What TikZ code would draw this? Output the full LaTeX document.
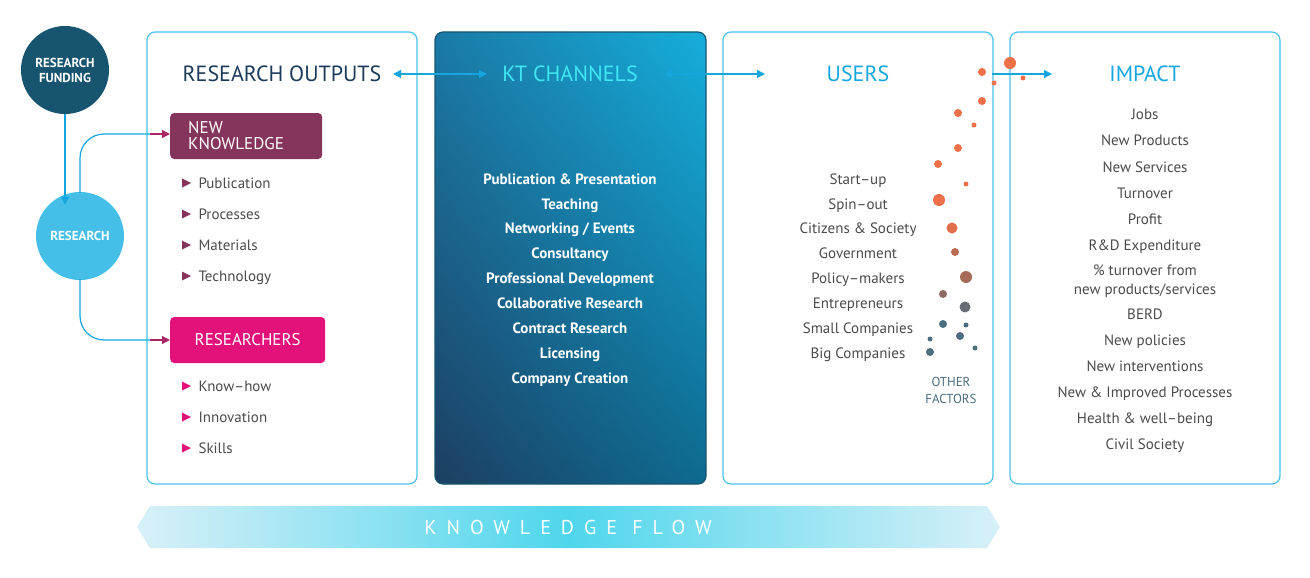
\documentclass[tikz,border=0pt]{standalone}
\usepackage{fontspec}
\setmainfont{PT Sans}
\usetikzlibrary{arrows.meta,shadings}
\definecolor{cy}{HTML}{14A6DC}
\definecolor{bd}{HTML}{4CC0E8}
\definecolor{dk}{HTML}{1B3A5A}
\definecolor{gt}{HTML}{4A4A4A}
\definecolor{nk}{HTML}{85355B}
\definecolor{rs}{HTML}{E2127A}
\definecolor{fund}{HTML}{17546F}
\definecolor{resc}{HTML}{45BFE7}
\definecolor{or}{HTML}{EE7048}
\definecolor{br}{HTML}{A86A58}
\definecolor{sl}{HTML}{4C6E80}
\definecolor{ktur}{HTML}{16AEDC}
\definecolor{ktul}{HTML}{1A7AA6}
\definecolor{ktlr}{HTML}{0E6A90}
\definecolor{ktll}{HTML}{1C3F62}
\definecolor{kttitle}{HTML}{3FE6F4}
\definecolor{kfm}{HTML}{4FD6EC}
\definecolor{kfe}{HTML}{D8F0F8}
\tikzset{
 panel/.style={draw=bd,line width=1.2pt,rounded corners=8pt},
 title/.style={font=\fontsize{22}{24}\selectfont},
 item/.style={font=\fontsize{15}{17}\selectfont,text=gt,anchor=base},
 kt/.style={font=\fontsize{15}{17}\selectfont\bfseries,text=white,anchor=base},
 tag/.style={font=\fontsize{17}{16}\selectfont,text=white,anchor=west,align=left},
 con/.style={line width=1.2pt,-{Triangle[length=8pt,width=8pt]}},
}
\newcommand{\tri}[3]{\fill[#3] (#1-4,#2-4.5) -- (#1+5,#2) -- (#1-4,#2+4.5) -- cycle;}
\begin{document}
\begin{tikzpicture}[x=1pt,y=-1pt]
\useasboundingbox (0,0) rectangle (1310,578);
% panels
\draw[panel] (147,32) rectangle (417,484);
\shade[rounded corners=8pt,upper right=ktur,upper left=ktul,lower right=ktlr,lower left=ktll] (435,32) rectangle (706,484);
\draw[panel,draw=fund] (435,32) rectangle (706,484);
\draw[panel] (723,32) rectangle (993,484);
\draw[panel] (1010,32) rectangle (1280,484);
% titles
\node[title,text=dk] (ro) at (282,74) {RESEARCH OUTPUTS};
\node[title,text=kttitle] (ktt) at (570,74) {KT CHANNELS};
\node[title,text=cy] (us) at (858,74) {USERS};
\node[title,text=cy] (im) at (1145,74) {IMPACT};
\coordinate (a1) at (393,74); \coordinate (a2) at (487,74);
\coordinate (b1) at (664,74); \coordinate (b2) at (765,74);
\coordinate (c1) at (992,74); \coordinate (c2) at (1052,74);
\draw[line width=1.2pt,cy,{Triangle[length=8pt,width=8pt]}-{Triangle[length=8pt,width=8pt]}] (a1) -- (a2);
\draw[line width=1.2pt,cy,{Triangle[length=8pt,width=8pt]}-{Triangle[length=8pt,width=8pt]}] (b1) -- (b2);
\draw[con,cy] (c1) -- (c2);
% circles
\node[circle,fill=fund,minimum size=88pt,inner sep=0pt,align=center,text=white,font=\fontsize{13}{15}\selectfont\bfseries] (fu) at (65,70) {RESEARCH\\FUNDING};
\node[circle,fill=resc,minimum size=88pt,inner sep=0pt,text=white,font=\fontsize{13}{15}\selectfont\bfseries] (re) at (80,236) {RESEARCH};
\draw[con,cy] (fu) -- (fu|-re.north west) ;
% tags
\node[tag,fill=nk,rounded corners=4pt,minimum width=152pt,minimum height=46pt,inner sep=0pt,text width=140pt] (nk) at (170,136) {\hspace*{12pt}\parbox{130pt}{\baselineskip=16pt NEW\\KNOWLEDGE}};
\node[tag,fill=rs,rounded corners=4pt,minimum width=155pt,minimum height=46pt,inner xsep=12pt] (rsb) at (170,340) {RESEARCHERS};
\draw[line width=1.2pt,cy] (80,193) -- (80,158) arc[start angle=180,end angle=270,radius=24] -- (150,134);
\draw[line width=1.2pt,nk!60!rs,-{Triangle[length=8pt,width=8pt]}] (150,134) -- (nk.west|-0,134);
\draw[line width=1.2pt,cy] (80,279) -- (80,316) arc[start angle=180,end angle=90,radius=24] -- (150,340);
\draw[line width=1.2pt,nk!60!rs,-{Triangle[length=8pt,width=8pt]}] (150,340) -- (rsb.west);
% bullets
\foreach \y/\t in {183/Publication,214/Processes,245/Materials,276/Technology}{
 \tri{186}{\y}{nk}
 \node[item,anchor=base west] at (195,\y+5) {\t};}
\foreach \y/\t in {386/Know–how,417/Innovation,448/Skills}{
 \tri{186}{\y}{rs}
 \node[item,anchor=base west] at (195,\y+5) {\t};}
% KT items
\foreach \y/\t in {179/{Publication \& Presentation},204/Teaching,228/{Networking / Events},253/Consultancy,278/{Professional Development},303/{Collaborative Research},328/{Contract Research},353/Licensing,378/{Company Creation}}
 \node[kt] at (570,\y+5) {\t};
% users
\foreach \y/\t in {179/Start–up,204/Spin–out,228/{Citizens \& Society},253/Government,278/Policy–makers,303/Entrepreneurs,328/{Small Companies},353/{Big Companies}}
 \node[item] at (858,\y+5) {\t};
\node[align=center,text=sl,font=\fontsize{13}{17}\selectfont] (of) at (951,390) {OTHER\\FACTORS};
% dots
\foreach \x/\y/\r/\c in {1010/63/6/or,982/72/4/or,994/83/2.5/or,1023/78/2.5/or,982/101/4/or,958/113/4/or,974/125/2.5/or,958/148/4/or,938/164/4/or,966/184/2.5/or,939/200/6/or,952/228/5.5/or!85!br,955/252/4/br!70!or,966/277/6/br,943/294/4/br!70!sl,965/307/5.5/sl!70!br,943/324/4/sl,966/325/2.5/sl,960/336/4/sl,930/339/2.5/sl,930/352/4/sl,975/348/2.5/sl}
 \fill[\c] (\x,\y) circle[radius=\r];
% impact
\foreach \y/\t in {115/Jobs,141/{New Products},167/{New Services},193/Turnover,219/Profit,245/{R\&D Expenditure},270/{\% turnover from},289/{new products/services},314/BERD,340/{New policies},366/{New interventions},392/{New \& Improved Processes},418/{Health \& well–being},444/{Civil Society}}
 \node[item] at (1145,\y+5) {\t};
% knowledge flow
\shade[top color=kfe,bottom color=kfe,middle color=kfm,shading angle=90] (137,527) -- (150,506) -- (987,506) -- (1000,527) -- (987,548) -- (150,548) -- cycle;
\node[text=white,font=\fontsize{20}{20}\selectfont\addfontfeatures{LetterSpace=50}] (kf) at (568,527) {KNOWLEDGE FLOW};
\end{tikzpicture}
\end{document}
